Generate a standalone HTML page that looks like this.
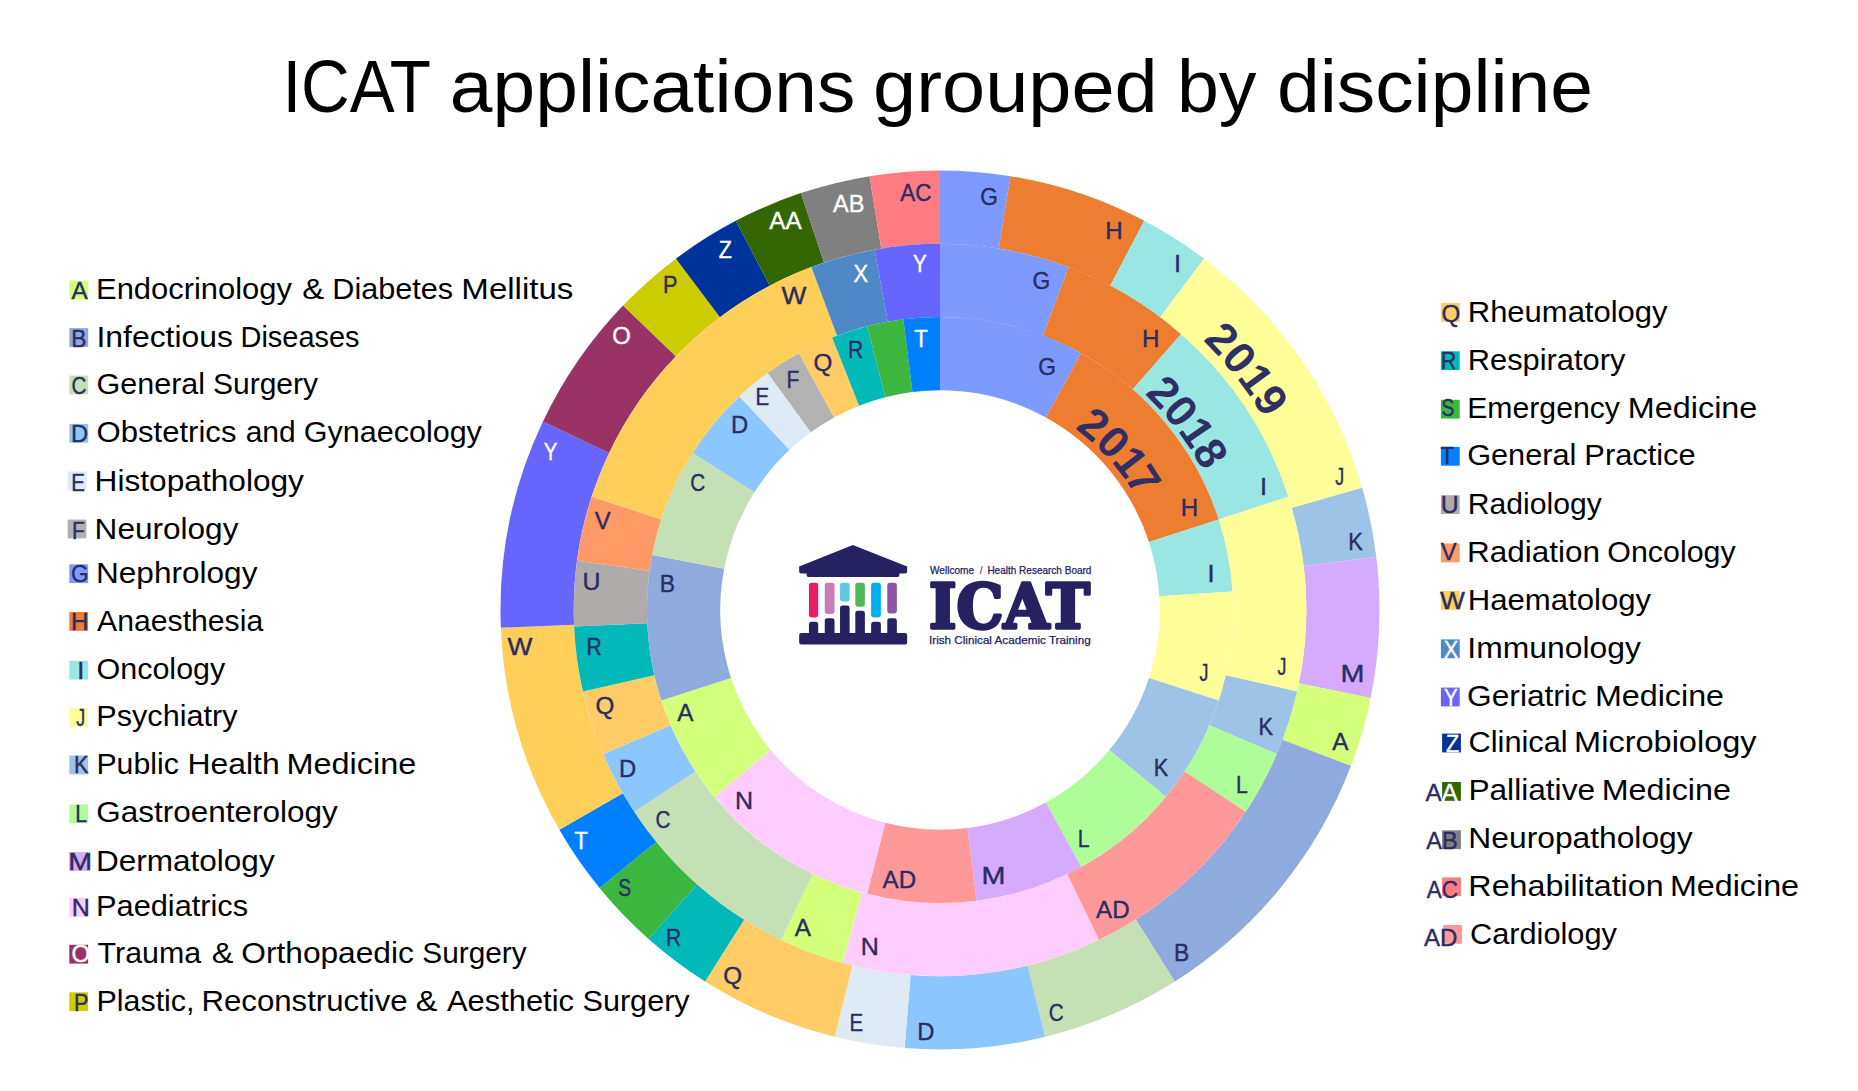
<!DOCTYPE html>
<html lang="en"><head><meta charset="utf-8"><title>ICAT applications grouped by discipline</title>
<style>html,body{margin:0;padding:0;background:#fff}body{width:1858px;height:1091px;overflow:hidden}svg{display:block;font-family:"Liberation Sans",sans-serif}</style>
</head><body>
<svg width="1858" height="1091" viewBox="0 0 1858 1091">
<rect width="1858" height="1091" fill="#fff"/>
<g id="donut">
<path d="M940.00 170.50A439.5 439.5 0 0 1 1010.50 176.19L998.75 248.49A366.25 366.25 0 0 0 940.00 243.75Z" fill="#7C9AFF"/>
<path d="M1010.50 176.19A439.5 439.5 0 0 1 1144.25 220.84L1110.20 285.70A366.25 366.25 0 0 0 998.75 248.49Z" fill="#ED7D31"/>
<path d="M1144.25 220.84A439.5 439.5 0 0 1 1204.03 258.64L1160.02 317.20A366.25 366.25 0 0 0 1110.20 285.70Z" fill="#99E6E3"/>
<path d="M1204.03 258.64A439.5 439.5 0 0 1 1362.15 487.72L1291.79 508.10A366.25 366.25 0 0 0 1160.02 317.20Z" fill="#FFFF99"/>
<path d="M1362.15 487.72A439.5 439.5 0 0 1 1376.30 557.02L1303.58 565.85A366.25 366.25 0 0 0 1291.79 508.10Z" fill="#9DC3E6"/>
<path d="M1376.30 557.02A439.5 439.5 0 0 1 1370.62 697.91L1298.85 683.26A366.25 366.25 0 0 0 1303.58 565.85Z" fill="#D5ABFF"/>
<path d="M1370.62 697.91A439.5 439.5 0 0 1 1350.94 765.85L1282.45 739.87A366.25 366.25 0 0 0 1298.85 683.26Z" fill="#D4FF7A"/>
<path d="M1350.94 765.85A439.5 439.5 0 0 1 1174.90 981.46L1135.75 919.55A366.25 366.25 0 0 0 1282.45 739.87Z" fill="#8FAADC"/>
<path d="M1174.90 981.46A439.5 439.5 0 0 1 1045.18 1036.73L1027.65 965.61A366.25 366.25 0 0 0 1135.75 919.55Z" fill="#C5E0B4"/>
<path d="M1045.18 1036.73A439.5 439.5 0 0 1 904.63 1048.07L910.53 975.06A366.25 366.25 0 0 0 1027.65 965.61Z" fill="#8CC6FF"/>
<path d="M904.63 1048.07A439.5 439.5 0 0 1 834.82 1036.73L852.35 965.61A366.25 366.25 0 0 0 910.53 975.06Z" fill="#DEEBF7"/>
<path d="M834.82 1036.73A439.5 439.5 0 0 1 705.10 981.46L744.25 919.55A366.25 366.25 0 0 0 852.35 965.61Z" fill="#FFCC66"/>
<path d="M705.10 981.46A439.5 439.5 0 0 1 648.56 938.97L697.13 884.14A366.25 366.25 0 0 0 744.25 919.55Z" fill="#00B9B8"/>
<path d="M648.56 938.97A439.5 439.5 0 0 1 599.56 887.96L656.30 841.63A366.25 366.25 0 0 0 697.13 884.14Z" fill="#3DB63F"/>
<path d="M599.56 887.96A439.5 439.5 0 0 1 559.38 829.75L622.82 793.13A366.25 366.25 0 0 0 656.30 841.63Z" fill="#0080FF"/>
<path d="M559.38 829.75A439.5 439.5 0 0 1 500.86 627.70L574.05 624.75A366.25 366.25 0 0 0 622.82 793.13Z" fill="#FFCF5A"/>
<path d="M500.86 627.70A439.5 439.5 0 0 1 542.93 421.59L609.11 452.99A366.25 366.25 0 0 0 574.05 624.75Z" fill="#6666FF"/>
<path d="M542.93 421.59A439.5 439.5 0 0 1 623.03 305.55L675.86 356.29A366.25 366.25 0 0 0 609.11 452.99Z" fill="#993366"/>
<path d="M623.03 305.55A439.5 439.5 0 0 1 675.97 258.64L719.98 317.20A366.25 366.25 0 0 0 675.86 356.29Z" fill="#CCCC00"/>
<path d="M675.97 258.64A439.5 439.5 0 0 1 735.75 220.84L769.80 285.70A366.25 366.25 0 0 0 719.98 317.20Z" fill="#003399"/>
<path d="M735.75 220.84A439.5 439.5 0 0 1 800.82 193.12L824.02 262.60A366.25 366.25 0 0 0 769.80 285.70Z" fill="#336600"/>
<path d="M800.82 193.12A439.5 439.5 0 0 1 869.50 176.19L881.25 248.49A366.25 366.25 0 0 0 824.02 262.60Z" fill="#808080"/>
<path d="M869.50 176.19A439.5 439.5 0 0 1 940.00 170.50L940.00 243.75A366.25 366.25 0 0 0 881.25 248.49Z" fill="#FF7C80"/>
<path d="M940.00 243.75A366.25 366.25 0 0 1 1068.69 267.10L1042.95 335.68A293.0 293.0 0 0 0 940.00 317.00Z" fill="#7C9AFF"/>
<path d="M1068.69 267.10A366.25 366.25 0 0 1 1180.97 334.19L1132.78 389.35A293.0 293.0 0 0 0 1042.95 335.68Z" fill="#ED7D31"/>
<path d="M1180.97 334.19A366.25 366.25 0 0 1 1288.32 496.82L1218.66 519.46A293.0 293.0 0 0 0 1132.78 389.35Z" fill="#99E6E3"/>
<path d="M1288.32 496.82A366.25 366.25 0 0 1 1297.07 691.50L1225.65 675.20A293.0 293.0 0 0 0 1218.66 519.46Z" fill="#FFFF99"/>
<path d="M1297.07 691.50A366.25 366.25 0 0 1 1276.78 753.95L1209.42 725.16A293.0 293.0 0 0 0 1225.65 675.20Z" fill="#9DC3E6"/>
<path d="M1276.78 753.95A366.25 366.25 0 0 1 1245.66 811.77L1184.53 771.41A293.0 293.0 0 0 0 1209.42 725.16Z" fill="#AFFD98"/>
<path d="M1245.66 811.77A366.25 366.25 0 0 1 1098.91 939.98L1067.13 873.98A293.0 293.0 0 0 0 1184.53 771.41Z" fill="#FF9999"/>
<path d="M1098.91 939.98A366.25 366.25 0 0 1 842.56 963.05L862.05 892.44A293.0 293.0 0 0 0 1067.13 873.98Z" fill="#FFCCFF"/>
<path d="M842.56 963.05A366.25 366.25 0 0 1 781.09 939.98L812.87 873.98A293.0 293.0 0 0 0 862.05 892.44Z" fill="#D4FF7A"/>
<path d="M781.09 939.98A366.25 366.25 0 0 1 634.34 811.77L695.47 771.41A293.0 293.0 0 0 0 812.87 873.98Z" fill="#C5E0B4"/>
<path d="M634.34 811.77A366.25 366.25 0 0 1 603.22 753.95L670.58 725.16A293.0 293.0 0 0 0 695.47 771.41Z" fill="#8CC6FF"/>
<path d="M603.22 753.95A366.25 366.25 0 0 1 582.93 691.50L654.35 675.20A293.0 293.0 0 0 0 670.58 725.16Z" fill="#FFCC66"/>
<path d="M582.93 691.50A366.25 366.25 0 0 1 574.12 626.43L647.30 623.15A293.0 293.0 0 0 0 654.35 675.20Z" fill="#00B9B8"/>
<path d="M574.12 626.43A366.25 366.25 0 0 1 577.06 560.84L649.65 570.67A293.0 293.0 0 0 0 647.30 623.15Z" fill="#AFABAB"/>
<path d="M577.06 560.84A366.25 366.25 0 0 1 591.68 496.82L661.34 519.46A293.0 293.0 0 0 0 649.65 570.67Z" fill="#FF9966"/>
<path d="M591.68 496.82A366.25 366.25 0 0 1 811.31 267.10L837.05 335.68A293.0 293.0 0 0 0 661.34 519.46Z" fill="#FFCF5A"/>
<path d="M811.31 267.10A366.25 366.25 0 0 1 874.60 249.64L887.68 321.71A293.0 293.0 0 0 0 837.05 335.68Z" fill="#4F88C6"/>
<path d="M874.60 249.64A366.25 366.25 0 0 1 940.00 243.75L940.00 317.00A293.0 293.0 0 0 0 887.68 321.71Z" fill="#6666FF"/>
<path d="M940.00 317.00A293.0 293.0 0 0 1 1081.15 353.24L1045.87 417.43A219.75 219.75 0 0 0 940.00 390.25Z" fill="#7C9AFF"/>
<path d="M1081.15 353.24A293.0 293.0 0 0 1 1218.66 519.46L1148.99 542.09A219.75 219.75 0 0 0 1045.87 417.43Z" fill="#ED7D31"/>
<path d="M1218.66 519.46A293.0 293.0 0 0 1 1232.42 591.60L1159.32 596.20A219.75 219.75 0 0 0 1148.99 542.09Z" fill="#99E6E3"/>
<path d="M1232.42 591.60A293.0 293.0 0 0 1 1218.66 700.54L1148.99 677.91A219.75 219.75 0 0 0 1159.32 596.20Z" fill="#FFFF99"/>
<path d="M1218.66 700.54A293.0 293.0 0 0 1 1165.76 796.77L1109.32 750.07A219.75 219.75 0 0 0 1148.99 677.91Z" fill="#9DC3E6"/>
<path d="M1165.76 796.77A293.0 293.0 0 0 1 1081.15 866.76L1045.87 802.57A219.75 219.75 0 0 0 1109.32 750.07Z" fill="#AFFD98"/>
<path d="M1081.15 866.76A293.0 293.0 0 0 1 976.72 900.69L967.54 828.02A219.75 219.75 0 0 0 1045.87 802.57Z" fill="#D5ABFF"/>
<path d="M976.72 900.69A293.0 293.0 0 0 1 867.13 893.79L885.35 822.85A219.75 219.75 0 0 0 967.54 828.02Z" fill="#FF9999"/>
<path d="M867.13 893.79A293.0 293.0 0 0 1 714.24 796.77L770.68 750.07A219.75 219.75 0 0 0 885.35 822.85Z" fill="#FFCCFF"/>
<path d="M714.24 796.77A293.0 293.0 0 0 1 661.34 700.54L731.01 677.91A219.75 219.75 0 0 0 770.68 750.07Z" fill="#D4FF7A"/>
<path d="M661.34 700.54A293.0 293.0 0 0 1 652.19 555.10L724.14 568.82A219.75 219.75 0 0 0 731.01 677.91Z" fill="#8FAADC"/>
<path d="M652.19 555.10A293.0 293.0 0 0 1 692.61 453.00L754.46 492.25A219.75 219.75 0 0 0 724.14 568.82Z" fill="#C5E0B4"/>
<path d="M692.61 453.00A293.0 293.0 0 0 1 739.43 396.41L789.57 449.81A219.75 219.75 0 0 0 754.46 492.25Z" fill="#8CC6FF"/>
<path d="M739.43 396.41A293.0 293.0 0 0 1 767.78 372.96L810.83 432.22A219.75 219.75 0 0 0 789.57 449.81Z" fill="#DEEBF7"/>
<path d="M767.78 372.96A293.0 293.0 0 0 1 798.85 353.24L834.13 417.43A219.75 219.75 0 0 0 810.83 432.22Z" fill="#B2B2B2"/>
<path d="M798.85 353.24A293.0 293.0 0 0 1 832.14 337.58L859.10 405.68A219.75 219.75 0 0 0 834.13 417.43Z" fill="#FFCC66"/>
<path d="M832.14 337.58A293.0 293.0 0 0 1 867.13 326.21L885.35 397.15A219.75 219.75 0 0 0 859.10 405.68Z" fill="#00B9B8"/>
<path d="M867.13 326.21A293.0 293.0 0 0 1 903.28 319.31L912.46 391.98A219.75 219.75 0 0 0 885.35 397.15Z" fill="#3DB63F"/>
<path d="M903.28 319.31A293.0 293.0 0 0 1 940.00 317.00L940.00 390.25A219.75 219.75 0 0 0 912.46 391.98Z" fill="#0080FF"/>
</g>
<g id="labels" font-size="24.8" fill="#2b2c64" stroke="#2b2c64" stroke-width="0.4">
<text x="900.3" y="200.6" textLength="31.13" lengthAdjust="spacingAndGlyphs">AC</text>
<text x="833.0" y="211.6" textLength="31.44" lengthAdjust="spacingAndGlyphs" fill="#fff" stroke="#fff">AB</text>
<text x="769.3" y="229.1" textLength="32.41" lengthAdjust="spacingAndGlyphs" fill="#fff" stroke="#fff">AA</text>
<text x="718.8" y="258.0" textLength="13.11" lengthAdjust="spacingAndGlyphs" fill="#fff" stroke="#fff">Z</text>
<text x="663.0" y="293.4" textLength="14.47" lengthAdjust="spacingAndGlyphs">P</text>
<text x="612.2" y="343.9" textLength="18.54" lengthAdjust="spacingAndGlyphs" fill="#fff" stroke="#fff">O</text>
<text x="543.7" y="460.0" textLength="13.65" lengthAdjust="spacingAndGlyphs" fill="#fff" stroke="#fff">Y</text>
<text x="507.6" y="655.1" textLength="24.91" lengthAdjust="spacingAndGlyphs">W</text>
<text x="574.2" y="848.5" textLength="13.65" lengthAdjust="spacingAndGlyphs" fill="#fff" stroke="#fff">T</text>
<text x="618.2" y="896.2" textLength="12.87" lengthAdjust="spacingAndGlyphs">S</text>
<text x="666.0" y="945.6" textLength="15.21" lengthAdjust="spacingAndGlyphs">R</text>
<text x="723.2" y="984.2" textLength="18.84" lengthAdjust="spacingAndGlyphs">Q</text>
<text x="849.4" y="1030.9" textLength="13.67" lengthAdjust="spacingAndGlyphs">E</text>
<text x="917.2" y="1040.4" textLength="17.23" lengthAdjust="spacingAndGlyphs">D</text>
<text x="1048.7" y="1021.4" textLength="14.93" lengthAdjust="spacingAndGlyphs">C</text>
<text x="1174.0" y="960.6" textLength="15.23" lengthAdjust="spacingAndGlyphs">B</text>
<text x="1332.2" y="749.7" textLength="16.20" lengthAdjust="spacingAndGlyphs">A</text>
<text x="1340.6" y="681.7" textLength="23.94" lengthAdjust="spacingAndGlyphs">M</text>
<text x="1348.3" y="549.6" textLength="14.55" lengthAdjust="spacingAndGlyphs">K</text>
<text x="1335.2" y="484.7" textLength="8.93" lengthAdjust="spacingAndGlyphs">J</text>
<text x="1174.1" y="272.3" textLength="7.06" lengthAdjust="spacingAndGlyphs">I</text>
<text x="1105.2" y="238.6" textLength="17.45" lengthAdjust="spacingAndGlyphs">H</text>
<text x="980.3" y="204.9" textLength="17.67" lengthAdjust="spacingAndGlyphs">G</text>
<text x="781.4" y="303.5" textLength="24.91" lengthAdjust="spacingAndGlyphs">W</text>
<text x="853.6" y="282.4" textLength="14.54" lengthAdjust="spacingAndGlyphs" fill="#fff" stroke="#fff">X</text>
<text x="912.9" y="272.3" textLength="13.65" lengthAdjust="spacingAndGlyphs" fill="#fff" stroke="#fff">Y</text>
<text x="594.7" y="529.3" textLength="15.89" lengthAdjust="spacingAndGlyphs">V</text>
<text x="582.6" y="590.2" textLength="17.97" lengthAdjust="spacingAndGlyphs">U</text>
<text x="586.5" y="654.7" textLength="15.21" lengthAdjust="spacingAndGlyphs">R</text>
<text x="595.4" y="714.1" textLength="18.84" lengthAdjust="spacingAndGlyphs">Q</text>
<text x="619.1" y="776.7" textLength="17.23" lengthAdjust="spacingAndGlyphs">D</text>
<text x="655.4" y="827.5" textLength="14.93" lengthAdjust="spacingAndGlyphs">C</text>
<text x="794.8" y="936.0" textLength="16.20" lengthAdjust="spacingAndGlyphs">A</text>
<text x="860.7" y="954.6" textLength="18.08" lengthAdjust="spacingAndGlyphs">N</text>
<text x="1096.1" y="917.7" textLength="33.43" lengthAdjust="spacingAndGlyphs">AD</text>
<text x="1235.9" y="793.0" textLength="11.77" lengthAdjust="spacingAndGlyphs">L</text>
<text x="1258.5" y="734.6" textLength="14.55" lengthAdjust="spacingAndGlyphs">K</text>
<text x="1277.4" y="674.5" textLength="8.93" lengthAdjust="spacingAndGlyphs">J</text>
<text x="1260.0" y="494.6" textLength="7.06" lengthAdjust="spacingAndGlyphs">I</text>
<text x="1142.1" y="346.7" textLength="17.45" lengthAdjust="spacingAndGlyphs">H</text>
<text x="1032.6" y="289.2" textLength="17.67" lengthAdjust="spacingAndGlyphs">G</text>
<text x="914.2" y="346.5" textLength="13.65" lengthAdjust="spacingAndGlyphs" fill="#fff" stroke="#fff">T</text>
<text x="848.1" y="357.6" textLength="15.21" lengthAdjust="spacingAndGlyphs">R</text>
<text x="813.4" y="370.7" textLength="18.84" lengthAdjust="spacingAndGlyphs">Q</text>
<text x="786.6" y="388.2" textLength="12.87" lengthAdjust="spacingAndGlyphs">F</text>
<text x="755.5" y="405.4" textLength="13.67" lengthAdjust="spacingAndGlyphs">E</text>
<text x="731.1" y="432.9" textLength="17.23" lengthAdjust="spacingAndGlyphs">D</text>
<text x="690.2" y="491.2" textLength="14.93" lengthAdjust="spacingAndGlyphs">C</text>
<text x="659.7" y="592.4" textLength="15.23" lengthAdjust="spacingAndGlyphs">B</text>
<text x="677.2" y="720.7" textLength="16.20" lengthAdjust="spacingAndGlyphs">A</text>
<text x="735.0" y="808.6" textLength="18.08" lengthAdjust="spacingAndGlyphs">N</text>
<text x="882.6" y="887.6" textLength="33.43" lengthAdjust="spacingAndGlyphs">AD</text>
<text x="981.6" y="884.1" textLength="23.94" lengthAdjust="spacingAndGlyphs">M</text>
<text x="1077.8" y="846.6" textLength="11.77" lengthAdjust="spacingAndGlyphs">L</text>
<text x="1153.8" y="775.7" textLength="14.55" lengthAdjust="spacingAndGlyphs">K</text>
<text x="1199.4" y="681.2" textLength="8.93" lengthAdjust="spacingAndGlyphs">J</text>
<text x="1207.6" y="582.3" textLength="7.06" lengthAdjust="spacingAndGlyphs">I</text>
<text x="1180.8" y="515.7" textLength="17.45" lengthAdjust="spacingAndGlyphs">H</text>
<text x="1038.3" y="374.6" textLength="17.67" lengthAdjust="spacingAndGlyphs">G</text>
</g>
<g id="years" font-size="44" font-weight="bold" text-anchor="middle" fill="#2f2e65">
<text transform="translate(1211.3 348.9) rotate(46.10)">2</text>
<text transform="translate(1228.0 367.5) rotate(49.90)">0</text>
<text transform="translate(1243.8 387.6) rotate(53.80)">1</text>
<text transform="translate(1257.9 408.3) rotate(57.60)">9</text>
<text transform="translate(1153.1 402.4) rotate(45.74)">2</text>
<text transform="translate(1169.4 420.6) rotate(50.45)">0</text>
<text transform="translate(1184.5 440.6) rotate(55.28)">1</text>
<text transform="translate(1197.4 460.8) rotate(59.89)">8</text>
<text transform="translate(1084.2 435.7) rotate(39.60)">2</text>
<text transform="translate(1102.4 452.5) rotate(45.87)">0</text>
<text transform="translate(1118.5 471.0) rotate(52.10)">1</text>
<text transform="translate(1130.5 488.0) rotate(57.36)">7</text>
</g>
<g id="logo" transform="translate(780 530) scale(0.17761)">
<path d="M410 85L716 205V233Q716 245 704 245H672V255Q672 265 662 265H160Q150 265 150 255V245H120Q108 245 108 233V205Z" fill="#262262"/>
<rect x="163" y="297" width="52" height="196" rx="14" fill="#EC1C63"/>
<path d="M163 590V531Q163 517 177 517H201Q215 517 215 531V590Z" fill="#262262"/>
<rect x="252" y="297" width="55" height="176" rx="14" fill="#C77DB5"/>
<path d="M252 590V511Q252 497 266 497H293Q307 497 307 511V590Z" fill="#262262"/>
<rect x="338" y="297" width="54" height="106" rx="14" fill="#5BC8E0"/>
<path d="M338 590V439Q338 425 352 425H378Q392 425 392 439V590Z" fill="#262262"/>
<rect x="424" y="297" width="54" height="135" rx="14" fill="#4FB95A"/>
<path d="M424 590V469Q424 455 438 455H464Q478 455 478 469V590Z" fill="#262262"/>
<rect x="513" y="297" width="55" height="196" rx="14" fill="#00AEEF"/>
<path d="M513 590V531Q513 517 527 517H554Q568 517 568 531V590Z" fill="#262262"/>
<rect x="604" y="297" width="54" height="173" rx="14" fill="#8E55A5"/>
<path d="M604 590V511Q604 497 618 497H644Q658 497 658 511V590Z" fill="#262262"/>
<rect x="108" y="580" width="608" height="65" rx="12" fill="#262262"/>
</g>
<g id="legend" font-size="24.8" fill="#2b2c64" stroke="#2b2c64" stroke-width="0.4">
<rect x="69.4" y="280.6" width="18.8" height="18.8" fill="#D4FF7A" stroke="none"/>
<text x="71.6" y="298.5" textLength="16.20" lengthAdjust="spacingAndGlyphs">A</text>
<rect x="69.4" y="328.1" width="18.8" height="18.8" fill="#8FAADC" stroke="none"/>
<text x="71.2" y="346.7" textLength="15.23" lengthAdjust="spacingAndGlyphs">B</text>
<rect x="69.4" y="375.6" width="18.8" height="18.8" fill="#C5E0B4" stroke="none"/>
<text x="71.6" y="393.9" textLength="14.93" lengthAdjust="spacingAndGlyphs">C</text>
<rect x="69.4" y="423.9" width="18.8" height="18.8" fill="#8CC6FF" stroke="none"/>
<text x="71.1" y="442.1" textLength="17.23" lengthAdjust="spacingAndGlyphs">D</text>
<rect x="67.6" y="471.5" width="18.8" height="18.8" fill="#DEEBF7" stroke="none"/>
<text x="71.2" y="490.9" textLength="13.67" lengthAdjust="spacingAndGlyphs">E</text>
<rect x="67.6" y="519.6" width="18.8" height="18.8" fill="#B2B2B2" stroke="none"/>
<text x="72.0" y="539.1" textLength="12.87" lengthAdjust="spacingAndGlyphs">F</text>
<rect x="69.3" y="564.3" width="18.8" height="18.8" fill="#7C9AFF" stroke="none"/>
<text x="71.0" y="582.2" textLength="17.67" lengthAdjust="spacingAndGlyphs">G</text>
<rect x="69.3" y="612.0" width="18.8" height="18.8" fill="#ED7D31" stroke="none"/>
<text x="71.1" y="630.4" textLength="17.45" lengthAdjust="spacingAndGlyphs">H</text>
<rect x="69.3" y="660.8" width="18.8" height="18.8" fill="#99E6E3" stroke="none"/>
<text x="77.3" y="678.6" textLength="7.06" lengthAdjust="spacingAndGlyphs">I</text>
<rect x="69.3" y="708.0" width="18.8" height="18.8" fill="#FFFF99" stroke="none"/>
<text x="76.2" y="725.8" textLength="8.93" lengthAdjust="spacingAndGlyphs">J</text>
<rect x="69.3" y="755.5" width="18.8" height="18.8" fill="#9DC3E6" stroke="none"/>
<text x="74.0" y="773.3" textLength="14.55" lengthAdjust="spacingAndGlyphs">K</text>
<rect x="69.3" y="804.4" width="18.8" height="18.8" fill="#AFFD98" stroke="none"/>
<text x="75.3" y="821.6" textLength="11.77" lengthAdjust="spacingAndGlyphs">L</text>
<rect x="69.3" y="852.1" width="18.8" height="18.8" fill="#D5ABFF" stroke="none"/>
<text x="68.2" y="870.3" textLength="23.94" lengthAdjust="spacingAndGlyphs">M</text>
<rect x="69.3" y="898.0" width="18.8" height="18.8" fill="#FFCCFF" stroke="none"/>
<text x="71.7" y="915.8" textLength="18.08" lengthAdjust="spacingAndGlyphs">N</text>
<rect x="69.3" y="944.8" width="18.8" height="18.8" fill="#993366" stroke="none"/>
<text x="71.4" y="962.3" textLength="18.54" lengthAdjust="spacingAndGlyphs" fill="#fff" stroke="#fff">O</text>
<rect x="69.3" y="992.3" width="18.8" height="18.8" fill="#CCCC00" stroke="none"/>
<text x="73.9" y="1010.5" textLength="14.47" lengthAdjust="spacingAndGlyphs">P</text>
<rect x="1440.9" y="302.9" width="18.8" height="18.8" fill="#FFCC66" stroke="none"/>
<text x="1441.6" y="321.5" textLength="18.84" lengthAdjust="spacingAndGlyphs">Q</text>
<rect x="1440.9" y="351.3" width="18.8" height="18.8" fill="#00B9B8" stroke="none"/>
<text x="1441.0" y="369.0" textLength="15.21" lengthAdjust="spacingAndGlyphs">R</text>
<rect x="1440.9" y="399.8" width="18.8" height="18.8" fill="#3DB63F" stroke="none"/>
<text x="1441.6" y="416.2" textLength="12.87" lengthAdjust="spacingAndGlyphs">S</text>
<rect x="1440.9" y="446.9" width="18.8" height="18.8" fill="#0080FF" stroke="none"/>
<text x="1440.6" y="463.7" textLength="13.65" lengthAdjust="spacingAndGlyphs">T</text>
<rect x="1440.9" y="495.2" width="18.8" height="18.8" fill="#AFABAB" stroke="none"/>
<text x="1440.8" y="512.7" textLength="17.97" lengthAdjust="spacingAndGlyphs">U</text>
<rect x="1440.9" y="543.5" width="18.8" height="18.8" fill="#FF9966" stroke="none"/>
<text x="1440.7" y="559.7" textLength="15.89" lengthAdjust="spacingAndGlyphs">V</text>
<rect x="1440.9" y="591.0" width="18.8" height="18.8" fill="#FFCF5A" stroke="none"/>
<text x="1440.1" y="608.6" textLength="24.91" lengthAdjust="spacingAndGlyphs">W</text>
<rect x="1440.9" y="639.4" width="18.8" height="18.8" fill="#4F88C6" stroke="none"/>
<text x="1443.7" y="657.6" textLength="14.54" lengthAdjust="spacingAndGlyphs" fill="#fff" stroke="#fff">X</text>
<rect x="1440.9" y="687.6" width="18.8" height="18.8" fill="#6666FF" stroke="none"/>
<text x="1444.0" y="705.8" textLength="13.65" lengthAdjust="spacingAndGlyphs" fill="#fff" stroke="#fff">Y</text>
<rect x="1442.1" y="733.6" width="18.8" height="18.8" fill="#003399" stroke="none"/>
<text x="1446.0" y="752.1" textLength="13.11" lengthAdjust="spacingAndGlyphs" fill="#fff" stroke="#fff">Z</text>
<rect x="1442.1" y="782.0" width="18.8" height="18.8" fill="#336600" stroke="none"/>
<text x="1425.4" y="800.6" textLength="32.41" lengthAdjust="spacingAndGlyphs">A<tspan fill="#fff" stroke="#fff">A</tspan></text>
<rect x="1442.1" y="830.3" width="18.8" height="18.8" fill="#808080" stroke="none"/>
<text x="1426.3" y="848.8" textLength="31.44" lengthAdjust="spacingAndGlyphs">AB</text>
<rect x="1442.1" y="877.4" width="18.8" height="18.8" fill="#FF7C80" stroke="none"/>
<text x="1426.8" y="897.5" textLength="31.13" lengthAdjust="spacingAndGlyphs">AC</text>
<rect x="1443.3" y="925.0" width="18.8" height="18.8" fill="#FF9999" stroke="none"/>
<text x="1424.0" y="946.0" textLength="33.43" lengthAdjust="spacingAndGlyphs">AD</text>
</g>
<text id="title" y="112.10" font-size="74" fill="#000"><tspan id="title_0" x="282.38" textLength="147.34" lengthAdjust="spacingAndGlyphs">ICAT</tspan> <tspan id="title_1" x="449.84" textLength="405.44" lengthAdjust="spacingAndGlyphs">applications</tspan> <tspan id="title_2" x="873.14" textLength="284.55" lengthAdjust="spacingAndGlyphs">grouped</tspan> <tspan id="title_3" x="1176.95" textLength="79.50" lengthAdjust="spacingAndGlyphs">by</tspan> <tspan id="title_4" x="1276.97" textLength="316.04" lengthAdjust="spacingAndGlyphs">discipline</tspan></text>
<text id="LA" y="298.80" font-size="30" fill="#000"><tspan id="LA_0" x="96.07" textLength="195.79" lengthAdjust="spacingAndGlyphs">Endocrinology</tspan> <tspan id="LA_1" x="302.25" textLength="21.86" lengthAdjust="spacingAndGlyphs">&amp;</tspan> <tspan id="LA_2" x="332.39" textLength="120.71" lengthAdjust="spacingAndGlyphs">Diabetes</tspan> <tspan id="LA_3" x="461.39" textLength="112.00" lengthAdjust="spacingAndGlyphs">Mellitus</tspan></text>
<text id="LB" y="347.00" font-size="30" fill="#000"><tspan id="LB_0" x="96.46" textLength="136.49" lengthAdjust="spacingAndGlyphs">Infectious</tspan> <tspan id="LB_1" x="240.53" textLength="119.02" lengthAdjust="spacingAndGlyphs">Diseases</tspan></text>
<text id="LC" y="394.20" font-size="30" fill="#000"><tspan id="LC_0" x="96.57" textLength="108.47" lengthAdjust="spacingAndGlyphs">General</tspan> <tspan id="LC_1" x="212.94" textLength="105.12" lengthAdjust="spacingAndGlyphs">Surgery</tspan></text>
<text id="LD" y="442.40" font-size="30" fill="#000"><tspan id="LD_0" x="96.63" textLength="139.79" lengthAdjust="spacingAndGlyphs">Obstetrics</tspan> <tspan id="LD_1" x="245.63" textLength="50.00" lengthAdjust="spacingAndGlyphs">and</tspan> <tspan id="LD_2" x="303.77" textLength="178.09" lengthAdjust="spacingAndGlyphs">Gynaecology</tspan></text>
<text id="LE" x="94.60" y="491.20" font-size="30" fill="#000" textLength="209.36" lengthAdjust="spacingAndGlyphs">Histopathology</text>
<text id="LF" x="94.61" y="539.40" font-size="30" fill="#000" textLength="143.85" lengthAdjust="spacingAndGlyphs">Neurology</text>
<text id="LG" x="96.01" y="582.50" font-size="30" fill="#000" textLength="161.45" lengthAdjust="spacingAndGlyphs">Nephrology</text>
<text id="LH" x="97.14" y="630.70" font-size="30" fill="#000" textLength="166.06" lengthAdjust="spacingAndGlyphs">Anaesthesia</text>
<text id="LI" x="96.45" y="678.90" font-size="30" fill="#000" textLength="128.90" lengthAdjust="spacingAndGlyphs">Oncology</text>
<text id="LJ" x="96.39" y="726.10" font-size="30" fill="#000" textLength="141.07" lengthAdjust="spacingAndGlyphs">Psychiatry</text>
<text id="LK" y="773.60" font-size="30" fill="#000"><tspan id="LK_0" x="96.42" textLength="82.38" lengthAdjust="spacingAndGlyphs">Public</tspan> <tspan id="LK_1" x="187.48" textLength="92.19" lengthAdjust="spacingAndGlyphs">Health</tspan> <tspan id="LK_2" x="286.44" textLength="129.80" lengthAdjust="spacingAndGlyphs">Medicine</tspan></text>
<text id="LL" x="96.32" y="821.90" font-size="30" fill="#000" textLength="241.34" lengthAdjust="spacingAndGlyphs">Gastroenterology</text>
<text id="LM" x="96.02" y="870.60" font-size="30" fill="#000" textLength="178.65" lengthAdjust="spacingAndGlyphs">Dermatology</text>
<text id="LN" x="96.08" y="916.10" font-size="30" fill="#000" textLength="152.03" lengthAdjust="spacingAndGlyphs">Paediatrics</text>
<text id="LO" y="962.60" font-size="30" fill="#000"><tspan id="LO_0" x="97.62" textLength="103.48" lengthAdjust="spacingAndGlyphs">Trauma</tspan> <tspan id="LO_1" x="211.66" textLength="21.65" lengthAdjust="spacingAndGlyphs">&amp;</tspan> <tspan id="LO_2" x="241.30" textLength="172.54" lengthAdjust="spacingAndGlyphs">Orthopaedic</tspan> <tspan id="LO_3" x="422.35" textLength="104.31" lengthAdjust="spacingAndGlyphs">Surgery</tspan></text>
<text id="LP" y="1010.80" font-size="30" fill="#000"><tspan id="LP_0" x="96.51" textLength="98.03" lengthAdjust="spacingAndGlyphs">Plastic,</tspan> <tspan id="LP_1" x="201.54" textLength="206.14" lengthAdjust="spacingAndGlyphs">Reconstructive</tspan> <tspan id="LP_2" x="415.86" textLength="21.65" lengthAdjust="spacingAndGlyphs">&amp;</tspan> <tspan id="LP_3" x="446.94" textLength="127.07" lengthAdjust="spacingAndGlyphs">Aesthetic</tspan> <tspan id="LP_4" x="582.51" textLength="107.15" lengthAdjust="spacingAndGlyphs">Surgery</tspan></text>
<text id="RQ" x="1467.76" y="321.50" font-size="30" fill="#000" textLength="199.80" lengthAdjust="spacingAndGlyphs">Rheumatology</text>
<text id="RR" x="1467.77" y="369.70" font-size="30" fill="#000" textLength="157.59" lengthAdjust="spacingAndGlyphs">Respiratory</text>
<text id="RS" y="418.20" font-size="30" fill="#000"><tspan id="RS_0" x="1467.22" textLength="152.74" lengthAdjust="spacingAndGlyphs">Emergency</tspan> <tspan id="RS_1" x="1627.85" textLength="129.49" lengthAdjust="spacingAndGlyphs">Medicine</tspan></text>
<text id="RT" y="465.20" font-size="30" fill="#000"><tspan id="RT_0" x="1467.16" textLength="109.20" lengthAdjust="spacingAndGlyphs">General</tspan> <tspan id="RT_1" x="1584.38" textLength="111.19" lengthAdjust="spacingAndGlyphs">Practice</tspan></text>
<text id="RU" x="1467.83" y="513.90" font-size="30" fill="#000" textLength="133.93" lengthAdjust="spacingAndGlyphs">Radiology</text>
<text id="RV" y="562.10" font-size="30" fill="#000"><tspan id="RV_0" x="1467.12" textLength="132.92" lengthAdjust="spacingAndGlyphs">Radiation</tspan> <tspan id="RV_1" x="1607.36" textLength="128.20" lengthAdjust="spacingAndGlyphs">Oncology</tspan></text>
<text id="RW" x="1467.75" y="610.30" font-size="30" fill="#000" textLength="183.41" lengthAdjust="spacingAndGlyphs">Haematology</text>
<text id="RX" x="1467.36" y="657.60" font-size="30" fill="#000" textLength="173.50" lengthAdjust="spacingAndGlyphs">Immunology</text>
<text id="RY" y="705.80" font-size="30" fill="#000"><tspan id="RY_0" x="1467.11" textLength="119.63" lengthAdjust="spacingAndGlyphs">Geriatric</tspan> <tspan id="RY_1" x="1594.95" textLength="129.08" lengthAdjust="spacingAndGlyphs">Medicine</tspan></text>
<text id="RZ" y="751.60" font-size="30" fill="#000"><tspan id="RZ_0" x="1468.54" textLength="99.12" lengthAdjust="spacingAndGlyphs">Clinical</tspan> <tspan id="RZ_1" x="1574.13" textLength="182.43" lengthAdjust="spacingAndGlyphs">Microbiology</tspan></text>
<text id="RAA" y="799.90" font-size="30" fill="#000"><tspan id="RAA_0" x="1468.40" textLength="126.70" lengthAdjust="spacingAndGlyphs">Palliative</tspan> <tspan id="RAA_1" x="1601.75" textLength="129.08" lengthAdjust="spacingAndGlyphs">Medicine</tspan></text>
<text id="RAB" x="1468.39" y="848.10" font-size="30" fill="#000" textLength="224.27" lengthAdjust="spacingAndGlyphs">Neuropathology</text>
<text id="RAC" y="895.80" font-size="30" fill="#000"><tspan id="RAC_0" x="1468.36" textLength="195.24" lengthAdjust="spacingAndGlyphs">Rehabilitation</tspan> <tspan id="RAC_1" x="1669.95" textLength="129.08" lengthAdjust="spacingAndGlyphs">Medicine</tspan></text>
<text id="RAD" x="1469.94" y="943.60" font-size="30" fill="#000" textLength="147.02" lengthAdjust="spacingAndGlyphs">Cardiology</text>
<text id="lg1" x="930.06" y="573.50" font-size="10.2" fill="#262262" textLength="43.99" lengthAdjust="spacingAndGlyphs" stroke="#262262" stroke-width="0.25">Wellcome</text>
<text id="lg2" x="979.80" y="573.50" font-size="10.2" fill="#262262" textLength="2.80" lengthAdjust="spacingAndGlyphs">/</text>
<text id="lg3" x="987.38" y="573.50" font-size="10.2" fill="#262262" textLength="104.07" lengthAdjust="spacingAndGlyphs" stroke="#262262" stroke-width="0.25">Health Research Board</text>
<text id="lg4" x="929.04" y="627.80" font-size="61.2" fill="#262262" textLength="160.66" lengthAdjust="spacingAndGlyphs" font-family="DejaVu Serif, Liberation Serif, serif" font-weight="bold" stroke="#262262" stroke-width="3.4" stroke-linejoin="round">ICAT</text>
<text id="lg5" x="929.02" y="643.70" font-size="10.8" fill="#262262" textLength="161.63" lengthAdjust="spacingAndGlyphs" stroke="#262262" stroke-width="0.25">Irish Clinical Academic Training</text>
</svg>
</body></html>
